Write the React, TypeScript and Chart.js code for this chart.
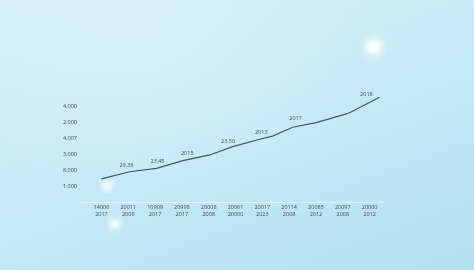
import React, { useEffect, useRef } from "react";
import { Chart, registerables } from "chart.js";

Chart.register(...registerables);

const xTop = ["14006", "20011", "10909", "20998", "20008", "20061", "20017", "20114", "20085", "20097", "20000"];
const xBottom = ["2017", "2009", "2017", "2017", "2008", "20000", "2023", "2008", "2012", "2008", "2012"];
const yTickLabels = ["1.000", "8.000", "3.000", "4.007", "2.000", "4.000"];

const lineX = [0, 1.05, 2.05, 3.04, 4.04, 4.9, 5.9, 6.38, 7.13, 8.01, 9.0, 9.25, 10.37];
const lineY = [0.46, 0.91, 1.12, 1.6, 1.96, 2.48, 2.94, 3.14, 3.69, 3.98, 4.46, 4.6, 5.56];

const noteText = ["29.38", "23.45", "2015", "23.50", "2013", "2017", "2018"];
const noteX = [0.93, 2.09, 3.2, 4.72, 5.96, 7.24, 9.88];
const noteY = [1.29, 1.56, 2.06, 2.79, 3.39, 4.27, 5.73];

const FONT = "'Open Sans', 'DejaVu Sans', sans-serif";
const TEXT = "#3c4a54";

const notesPlugin = {
  id: "notes",
  afterDatasetsDraw(chart: any) {
    const { ctx, scales } = chart;
    ctx.save();
    ctx.font = `5.5px ${FONT}`;
    ctx.fillStyle = TEXT;
    ctx.textAlign = "center";
    ctx.textBaseline = "middle";
    noteText.forEach((t, i) => {
      ctx.fillText(t, scales.x.getPixelForValue(noteX[i]), scales.y.getPixelForValue(noteY[i]));
    });
    ctx.restore();
  },
};

export default function App() {
  const ref = useRef<HTMLCanvasElement>(null);
  useEffect(() => {
    if (!ref.current) return;
    const chart = new Chart(ref.current, {
      type: "line",
      data: {
        datasets: [
          {
            data: lineX.map((x, i) => ({ x, y: lineY[i] })),
            borderColor: "#3e5763",
            borderWidth: 1.2,
            pointRadius: 0,
            tension: 0,
            fill: false,
          },
        ],
      },
      options: {
        animation: false,
        responsive: false,
        layout: { padding: { left: 0, top: 90.3, right: 91, bottom: 0 } },
        plugins: { legend: { display: false }, tooltip: { enabled: false } },
        scales: {
          x: {
            type: "linear",
            min: -0.8,
            max: 10.5,
            grid: { display: false, drawTicks: false },
            border: { display: true, color: "rgba(255,255,255,0.45)", width: 1 },
            afterBuildTicks: (s: any) => {
              s.ticks = xTop.map((_, i) => ({ value: i }));
            },
            afterFit: (s: any) => {
              s.height = 270 - 202.3;
            },
            ticks: {
              autoSkip: false,
              maxRotation: 0,
              padding: 1,
              color: TEXT,
              font: { size: 5.5, family: FONT, lineHeight: 1.4 },
              callback: (v: any) => {
                const i = Math.round(Number(v));
                return [xTop[i], xBottom[i]];
              },
            },
          },
          y: {
            type: "linear",
            min: -1,
            max: 6,
            grid: { display: false, drawTicks: false },
            border: { display: false },
            afterBuildTicks: (s: any) => {
              s.ticks = yTickLabels.map((_, i) => ({ value: i }));
            },
            afterFit: (s: any) => {
              s.width = 80;
            },
            ticks: {
              padding: 3,
              color: TEXT,
              font: { size: 5.5, family: FONT },
              callback: (v: any) => yTickLabels[Math.round(Number(v))],
            },
          },
        },
      },
      plugins: [notesPlugin],
    });
    return () => chart.destroy();
  }, []);

  const bg = [
    "radial-gradient(circle at 374px 47px, rgba(255,255,255,1) 0px, rgba(255,255,255,0.9) 4px, rgba(255,255,255,0.3) 9px, rgba(255,255,255,0) 15px)",
    "radial-gradient(circle at 107px 186px, rgba(255,255,255,0.95) 0px, rgba(255,255,255,0.6) 3px, rgba(255,255,255,0) 9px)",
    "radial-gradient(circle at 115px 224px, rgba(255,255,255,0.95) 0px, rgba(255,255,255,0.6) 3px, rgba(255,255,255,0) 10px)",
    "radial-gradient(ellipse at 140px 30px, rgba(235,250,255,0.35) 0px, rgba(235,250,255,0) 220px)",
    "linear-gradient(160deg, #d6f0f8 0%, #c8eaf6 45%, #b4e1f1 100%)",
  ].join(", ");

  return (
    <div style={{ position: "absolute", left: 0, top: 0, width: 474, height: 270, background: bg, overflow: "hidden" }}>
      <canvas ref={ref} width={474} height={270} style={{ display: "block", width: 474, height: 270 }} />
    </div>
  );
}
